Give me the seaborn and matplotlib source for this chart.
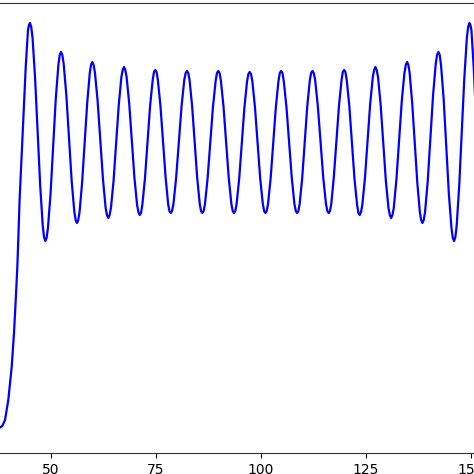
import matplotlib
matplotlib.use("Agg")
import matplotlib.pyplot as plt
import seaborn as sns
import pandas as pd

# values (x in axis units, y in arbitrary units)
t = [36.43, 37.62, 38.40, 39.05, 39.83, 40.64, 41.19, 41.60, 41.98, 42.21, 42.52, 43.26, 43.98, 44.52, 44.76,
     45.00, 45.30, 45.61, 46.21, 46.82, 47.43, 48.04, 48.34,
     48.64, 48.95, 49.27, 49.89, 50.51, 51.13, 51.76, 52.07,
     52.38, 52.70, 53.02, 53.65, 54.29, 54.92, 55.56, 55.87,
     56.19, 56.49, 56.80, 57.40, 58.01, 58.62, 59.23, 59.53,
     59.83, 60.15, 60.47, 61.10, 61.74, 62.37, 63.01, 63.32,
     63.64, 63.95, 64.27, 64.89, 65.51, 66.13, 66.76, 67.07,
     67.38, 67.69, 68.00, 68.63, 69.25, 69.87, 70.50, 70.81,
     71.12, 71.43, 71.74, 72.36, 72.98, 73.59, 74.21, 74.52,
     74.83, 75.14, 75.44, 76.06, 76.67, 77.28, 77.89, 78.19,
     78.50, 78.82, 79.15, 79.79, 80.44, 81.09, 81.73, 82.06,
     82.38, 82.68, 82.99, 83.60, 84.20, 84.81, 85.42, 85.72,
     86.02, 86.34, 86.66, 87.29, 87.93, 88.56, 89.20, 89.51,
     89.83, 90.14, 90.46, 91.08, 91.70, 92.32, 92.95, 93.26,
     93.57, 93.88, 94.19, 94.82, 95.44, 96.06, 96.69, 97.00,
     97.31, 97.62, 97.93, 98.56, 99.18, 99.80, 100.43, 100.74,
     101.05, 101.36, 101.67, 102.30, 102.92, 103.54, 104.16, 104.48,
     104.79, 105.11, 105.42, 106.06, 106.69, 107.33, 107.96, 108.28,
     108.60, 108.90, 109.20, 109.81, 110.42, 111.02, 111.63, 111.94,
     112.24, 112.56, 112.89, 113.53, 114.18, 114.83, 115.47, 115.80,
     116.12, 116.43, 116.73, 117.34, 117.95, 118.56, 119.18, 119.48,
     119.79, 120.10, 120.41, 121.03, 121.64, 122.26, 122.88, 123.19,
     123.50, 123.81, 124.12, 124.75, 125.37, 125.99, 126.62, 126.93,
     127.24, 127.55, 127.86, 128.49, 129.11, 129.73, 130.35, 130.67,
     130.98, 131.30, 131.61, 132.25, 132.88, 133.52, 134.15, 134.47,
     134.79, 135.09, 135.39, 136.00, 136.61, 137.22, 137.82, 138.13,
     138.43, 138.75, 139.06, 139.70, 140.33, 140.97, 141.60, 141.92,
     142.24, 142.55, 142.86, 143.49, 144.11, 144.73, 145.35, 145.67,
     145.98, 146.28, 146.58, 147.19, 147.80, 148.41, 149.01, 149.32,
     149.62, 149.86, 150.10, 150.64, 151.36, 152.10, 152.41, 152.64, 153.02, 153.43, 153.98,
     154.79, 155.57, 156.20, 157.00, 158.19]

amp = [27, 25, 27, 33, 53, 86, 120, 153, 186, 213, 253, 320, 386, 423, 428,
       430, 426, 415, 375, 321, 267, 227, 216,
       212, 215, 225, 259, 307, 354, 388, 398,
       401, 398, 389, 358, 315, 272, 241, 233,
       230, 233, 241, 270, 310, 350, 380, 388,
       391, 388, 380, 352, 313, 274, 245, 238,
       235, 238, 245, 272, 310, 348, 376, 383,
       386, 383, 376, 349, 312, 275, 248, 241,
       238, 240, 248, 274, 311, 347, 373, 381,
       383, 381, 373, 347, 311, 276, 249, 242,
       240, 242, 249, 275, 311, 347, 373, 380,
       382, 380, 373, 347, 311, 275, 249, 242,
       240, 242, 249, 275, 311, 346, 372, 380,
       382, 380, 372, 346, 311, 275, 249, 242,
       240, 242, 249, 275, 311, 346, 372, 379,
       381, 379, 372, 346, 311, 275, 249, 242,
       240, 242, 249, 275, 311, 346, 372, 380,
       382, 380, 372, 346, 311, 275, 249, 242,
       240, 242, 249, 275, 311, 347, 373, 380,
       382, 380, 373, 347, 311, 275, 249, 242,
       240, 242, 249, 276, 311, 347, 373, 381,
       383, 381, 373, 347, 311, 274, 248, 240,
       238, 241, 248, 275, 312, 349, 376, 383,
       386, 383, 376, 348, 310, 272, 245, 238,
       235, 238, 245, 274, 313, 352, 380, 388,
       391, 388, 380, 350, 310, 270, 241, 233,
       230, 233, 241, 272, 315, 358, 389, 398,
       401, 398, 388, 354, 307, 259, 225, 215,
       212, 216, 227, 267, 321, 375, 415, 426,
       430, 428, 423, 386, 320, 253, 213, 186, 153, 120, 86,
       53, 33, 27, 25, 27]

df = pd.DataFrame({"t": t, "amp": amp})

sns.set_style("ticks")
fig = plt.figure(figsize=(4.74, 4.74), dpi=100)
# the original is a crop: axes run past the left/right edges of the picture
ax = fig.add_axes([-20 / 474, 21 / 474, 514 / 474, 450 / 474])
sns.lineplot(data=df, x="t", y="amp", color="blue", linewidth=1.6,
             estimator=None, sort=False, ax=ax)
ax.lines[0].set_solid_joinstyle("round")
ax.set_xlim(33.095, 155.476)
ax.set_ylim(0, 450)
ax.set_xticks([50, 75, 100, 125, 150])
ax.set_xlabel("")
ax.set_ylabel("")
ax.tick_params(axis="x", labelsize=10, colors="black")
for s in ax.spines.values():
    s.set_color("#333333")

fig.savefig("out.png", dpi=100)
